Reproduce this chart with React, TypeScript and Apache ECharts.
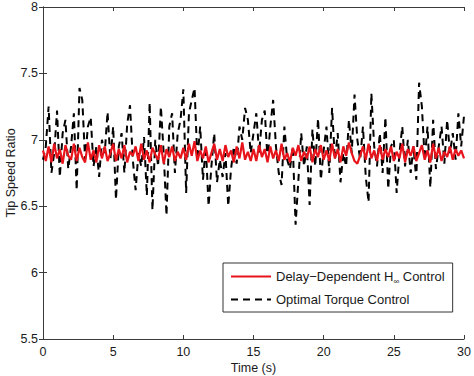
import React, { useEffect, useRef } from "react";
import * as echarts from "echarts";

const timeStep = 0.2;

const optimalTorque = [
  6.85, 6.95, 7.25, 6.75, 6.9, 7.22, 6.72, 7.05, 7.15, 6.78, 6.95, 7.2, 6.62, 7.39, 7.3, 6.85, 7.1, 7.17, 6.8, 6.95, 6.72, 7.0, 6.9, 7.21, 6.85, 7.1,
  6.55, 6.95, 7.05, 6.75, 7.12, 7.26, 6.85, 6.62, 6.9, 6.8, 7.02, 6.58, 7.28, 6.47, 7.0, 6.8, 7.25, 6.9, 6.43, 7.1, 7.2, 6.75, 7.05, 7.15, 7.38,
  6.6, 7.2, 7.3, 7.39, 6.85, 7.1, 6.7, 6.95, 6.5, 6.8, 7.05, 6.68, 6.85, 6.72, 6.9, 6.5, 6.78, 6.95, 6.82, 7.1, 7.0, 7.24, 7.15, 6.9, 7.05,
  7.2, 6.9, 7.15, 7.22, 6.85, 7.1, 7.3, 6.95, 6.75, 6.66, 7.1, 6.85, 6.78, 6.95, 6.36, 6.7, 7.05, 6.8, 6.95, 6.51, 7.08, 6.8, 7.16, 6.7, 6.92,
  7.1, 6.75, 7.24, 6.85, 7.05, 6.68, 6.9, 6.8, 7.15, 6.9, 7.34, 7.0, 6.85, 7.1, 6.72, 6.53, 7.35, 6.95, 6.8, 7.05, 6.75, 7.17, 6.63, 6.95, 7.0,
  6.6, 6.9, 7.1, 6.8, 7.0, 6.75, 6.95, 6.7, 7.43, 7.25, 6.85, 7.1, 6.64, 7.15, 6.78, 6.95, 7.1, 6.82, 7.15, 6.9, 7.05, 6.85, 7.2, 6.95, 7.18,
];

const delayDependent = [
  6.92, 6.84, 6.95, 6.83, 6.97, 6.86, 6.93, 6.82, 6.96, 6.88, 6.85, 6.97, 6.84, 6.94, 6.87, 6.83, 6.98, 6.85, 6.92, 6.83, 6.96, 6.86, 6.95, 6.84, 6.9, 6.97,
  6.84, 6.93, 6.86, 6.96, 6.83, 6.91, 6.88, 6.95, 6.84, 6.97, 6.85, 6.92, 6.83, 6.94, 6.89, 6.85, 6.96, 6.82, 6.93, 6.87, 6.95, 6.84, 6.91, 6.86, 6.94,
  6.85, 6.97, 6.88, 6.99, 6.84, 6.92, 6.86, 6.95, 6.83, 6.9, 6.97, 6.85, 6.93, 6.84, 6.96, 6.87, 6.92, 6.83, 6.95, 6.86, 6.98, 6.85, 6.91, 6.84, 6.93,
  6.84, 6.96, 6.87, 6.93, 6.83, 6.95, 6.86, 6.92, 6.84, 6.97, 6.85, 6.9, 6.83, 6.94, 6.88, 6.96, 6.84, 6.91, 6.86, 6.95, 6.83, 6.93, 6.87, 6.96, 6.85,
  6.92, 6.84, 6.97, 6.86, 6.93, 6.83, 6.95, 6.88, 6.98, 6.9, 6.84, 6.82, 6.88, 6.95, 6.85, 6.97, 6.86, 6.92, 6.84, 6.96, 6.85, 6.93, 6.87, 6.95, 6.84,
  6.91, 6.86, 6.97, 6.83, 6.93, 6.88, 6.95, 6.84, 6.9, 6.96, 6.85, 6.92, 6.83, 6.97, 6.86, 6.94, 6.84, 6.91, 6.87, 6.95, 6.85, 6.93, 6.88, 6.92, 6.86,
];

const xTicks = [0, 5, 10, 15, 20, 25, 30];
const yTicks = [5.5, 6, 6.5, 7, 7.5, 8];

const seriesNames = ["Delay−Dependent H∞ Control", "Optimal Torque Control"];

const FONT = "Liberation Sans, Arial, Helvetica, sans-serif";

export default function App() {
  const ref = useRef<HTMLDivElement>(null);
  useEffect(() => {
    if (!ref.current) return;
    const chart = echarts.init(ref.current, undefined, { renderer: "svg" });
    const toPairs = (arr: number[]) => arr.map((v, i) => [Number((i * timeStep).toFixed(1)), v]);
    const axisLine = { show: true, lineStyle: { color: "#3a3a3a", width: 1 } };
    const axisTick = { show: true, inside: true, length: 4, lineStyle: { color: "#3a3a3a" } };
    chart.setOption({
      animation: false,
      backgroundColor: "#ffffff",
      textStyle: { fontFamily: FONT },
      grid: { left: 43, right: 10, top: 7, bottom: 37, containLabel: false, outerBoundsMode: "none" },
      xAxis: [
        {
          type: "value",
          min: xTicks[0],
          max: xTicks[xTicks.length - 1],
          interval: 5,
          name: "Time (s)",
          nameLocation: "middle",
          nameGap: 22,
          nameMoveOverlap: false,
          nameTextStyle: { fontSize: 12.5, color: "#1a1a1a", fontFamily: FONT },
          axisLine,
          axisTick,
          splitLine: { show: false },
          axisLabel: { fontSize: 12.5, color: "#1a1a1a", margin: 6, fontFamily: FONT },
        },
        {
          type: "value",
          position: "top",
          min: xTicks[0],
          max: xTicks[xTicks.length - 1],
          interval: 5,
          axisLine,
          axisTick,
          splitLine: { show: false },
          axisLabel: { show: false },
        },
      ],
      yAxis: [
        {
          type: "value",
          min: yTicks[0],
          max: yTicks[yTicks.length - 1],
          interval: 0.5,
          name: "Tip Speed Ratio",
          nameLocation: "middle",
          nameGap: 26,
          nameMoveOverlap: false,
          nameTextStyle: { fontSize: 12.5, color: "#1a1a1a", fontFamily: FONT },
          axisLine,
          axisTick,
          splitLine: { show: false },
          axisLabel: { fontSize: 12.5, color: "#1a1a1a", margin: 5, fontFamily: FONT },
        },
        {
          type: "value",
          position: "right",
          min: yTicks[0],
          max: yTicks[yTicks.length - 1],
          interval: 0.5,
          axisLine,
          axisTick,
          splitLine: { show: false },
          axisLabel: { show: false },
        },
      ],
      legend: {
        orient: "vertical",
        left: 223,
        top: 263,
        padding: [7, 8, 6, 7],
        itemWidth: 40,
        itemHeight: 14,
        itemGap: 8,
        borderColor: "#333",
        borderWidth: 1,
        backgroundColor: "#fff",
        borderRadius: 0,
        itemStyle: { opacity: 0 },
        data: seriesNames,
        formatter: (name: string) =>
          name === seriesNames[0]
            ? "{t|Delay−Dependent H}{s|∞}{t| Control}"
            : "{t|Optimal Torque Control}",
        textStyle: {
          fontFamily: FONT,
          fontSize: 13,
          color: "#1a1a1a",
          rich: {
            t: { fontSize: 13, fontFamily: FONT, color: "#1a1a1a" },
            s: { fontSize: 8, fontFamily: FONT, color: "#1a1a1a", verticalAlign: "bottom", padding: [9, 0, 0, 0] },
          },
        },
      },
      series: [
        {
          name: seriesNames[1],
          type: "line",
          data: toPairs(optimalTorque),
          symbol: "none",
          showSymbol: false,
          z: 2,
          lineStyle: { color: "#000000", width: 2, type: [7, 5] },
          itemStyle: { color: "#000000" },
        },
        {
          name: seriesNames[0],
          type: "line",
          data: toPairs(delayDependent),
          symbol: "none",
          showSymbol: false,
          z: 3,
          lineStyle: { color: "#e8141c", width: 2.2 },
          itemStyle: { color: "#e8141c" },
        },
      ],
    });
    return () => chart.dispose();
  }, []);
  return (
    <div
      ref={ref}
      style={{ position: "fixed", left: 0, top: 0, width: 474, height: 376, background: "#fff" }}
    />
  );
}
